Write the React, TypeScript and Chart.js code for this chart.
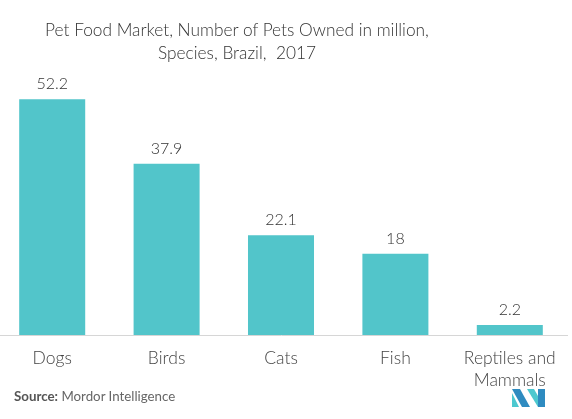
import React, { useEffect, useRef } from "react";
import { Chart, registerables } from "chart.js";

Chart.register(...registerables);

const categories: (string | string[])[] = ["Dogs", "Birds", "Cats", "Fish", ["Reptiles and", "Mammals"]];
const values: number[] = [52.2, 37.9, 22.1, 18, 2.2];
const valueLabels: string[] = ["52.2", "37.9", "22.1", "18", "2.2"];

const FONT = "Lato, 'Open Sans', sans-serif";

const valueLabelPlugin = {
  id: "valueLabels",
  afterDatasetsDraw(chart: any) {
    const { ctx } = chart;
    const meta = chart.getDatasetMeta(0);
    ctx.save();
    ctx.font = `300 16px ${FONT}`;
    ctx.fillStyle = "#333";
    ctx.textAlign = "center";
    ctx.textBaseline = "middle";
    meta.data.forEach((bar: any, i: number) => {
      ctx.fillText(valueLabels[i], bar.x, bar.y - 15);
    });
    ctx.restore();
  },
};

export default function App() {
  const ref = useRef<HTMLCanvasElement | null>(null);
  useEffect(() => {
    if (!ref.current) return;
    const chart = new Chart(ref.current, {
      type: "bar",
      data: {
        labels: categories,
        datasets: [
          {
            data: values,
            backgroundColor: "#52C5CA",
            categoryPercentage: 1,
            barPercentage: 0.577,
          },
        ],
      },
      options: {
        animation: false,
        responsive: false,
        maintainAspectRatio: false,
        layout: { padding: { top: 64, right: 5, left: 0, bottom: 16 } },
        plugins: {
          legend: { display: false },
          tooltip: { enabled: false },
          title: { display: false },
        },
        scales: {
          x: {
            grid: { display: false, drawTicks: false },
            border: { display: true, color: "#d6d6d6", width: 1 },
            ticks: {
              color: "#444",
              padding: 12,
              font: { family: FONT, size: 17.5, weight: "300", lineHeight: 1.257 },
              maxRotation: 0,
              autoSkip: false,
            },
          },
          y: {
            display: false,
            min: 0,
            max: 60,
          },
        },
      },
      plugins: [valueLabelPlugin],
    });
    return () => chart.destroy();
  }, []);

  return (
    <div style={{ position: "fixed", left: 0, top: 0, width: 572, height: 419, background: "#fff", overflow: "hidden" }}>
      <canvas
        ref={ref}
        width={577}
        height={419}
        style={{ position: "absolute", left: -5, top: 0, width: 577, height: 419 }}
      />
      <div
        style={{
          position: "absolute",
          left: 37,
          width: 400,
          top: 18,
          textAlign: "center",
          fontFamily: FONT,
          fontSize: 17.3,
          fontWeight: 300,
          lineHeight: "23px",
          color: "#333",
        }}
      >
        <div>Pet Food Market, Number of Pets Owned in million,</div>
        <div>Species, Brazil,&nbsp; 2017</div>
      </div>
      <div
        style={{
          position: "absolute",
          left: 14,
          top: 388,
          fontFamily: FONT,
          fontSize: 13.3,
          lineHeight: "16px",
          color: "#666",
        }}
      >
        <b style={{ color: "#555" }}>Source:</b> Mordor Intelligence
      </div>
      <svg style={{ position: "absolute", left: 0, top: 0 }} width={572} height={419}>
        <polygon points="512,393 512,407 519,407" fill="#4CC8CF" />
        <polygon points="512,389 520,389 530,407 522,407" fill="#2E8BC0" />
        <polygon points="527,389 534,389 538,396 538,407" fill="#4CC8CF" />
        <polygon points="538,389 545,389 545,407 538,407" fill="#2E8BC0" />
      </svg>
    </div>
  );
}
